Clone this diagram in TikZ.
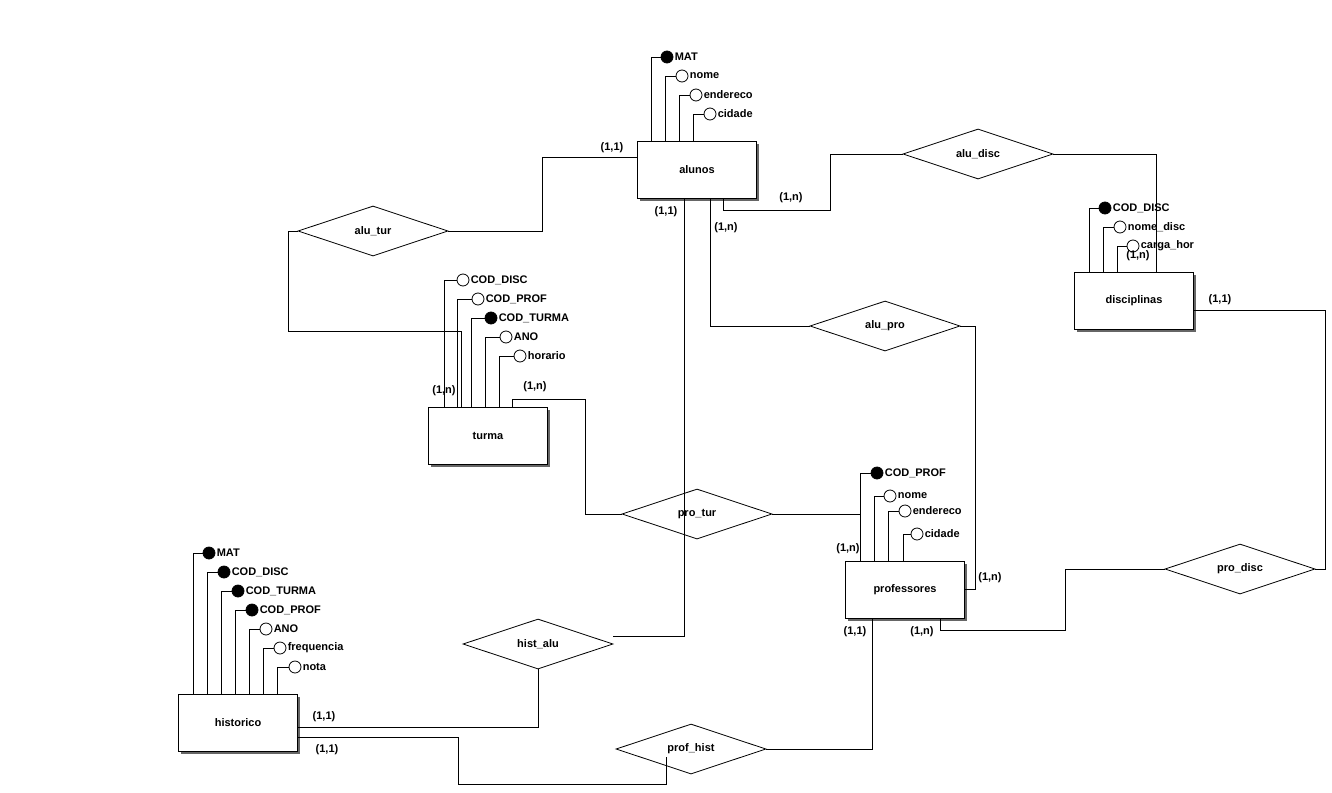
\documentclass[tikz,border=0pt]{standalone}
\usepackage{fontspec}
\setmainfont{Liberation Sans}
\usetikzlibrary{shapes.geometric,shadows,calc}
\begin{document}
\begin{tikzpicture}[x=1pt,y=-1pt,font=\fontsize{11}{13}\selectfont\bfseries,
  ent/.style={draw,fill=white,minimum width=119pt,minimum height=57pt,inner sep=0pt,drop shadow={shadow xshift=2pt,shadow yshift=-2pt,fill=black!60,opacity=1}},
  rel/.style={draw,fill=white,diamond,aspect=3,minimum width=150pt,minimum height=50pt,inner sep=0pt},
  key/.style={circle,draw,fill=black,minimum size=12pt,inner sep=0pt},
  att/.style={circle,draw,fill=white,minimum size=12pt,inner sep=0pt},
  lab/.style={inner sep=1pt},
  line width=0.8pt]
\useasboundingbox (0,0) rectangle (1332,792);
% entities
\node[ent] (alunos) at (697,170) {alunos};
\node[ent] (disc) at (1134,301) {disciplinas};
\node[ent] (turma) at (488,436) {turma};
\node[ent] (prof) at (905,590) {professores};
\node[ent] (hist) at (238,723) {historico};
% relationships
\node[rel] (aludisc) at (978,154) {alu\_disc};
\node[rel] (alutur) at (373,231) {alu\_tur};
\node[rel] (alupro) at (885,326) {alu\_pro};
\node[rel] (protur) at (697,514) {pro\_tur};
\node[rel] (prodisc) at (1240,569) {pro\_disc};
\node[rel] (histalu) at (538,644) {hist\_alu};
\node[rel] (profhist) at (691,749) {prof\_hist};
% attribute macro: entity, x of line, circle x, y, style, text
\newcommand{\myattr}[6]{%
  \node[#5] (#1-#4) at (#3,#4) {};
  \draw (#2,0 |- #1.north) -- (#2,#4) -- (#1-#4.west);
  \node[lab,anchor=west] at (#1-#4.east) {#6};}
\myattr{alunos}{651}{667}{57}{key}{MAT}
\myattr{alunos}{665}{682}{76}{att}{nome}
\myattr{alunos}{679}{696}{95}{att}{endereco}
\myattr{alunos}{693}{710}{114}{att}{cidade}
\myattr{disc}{1089}{1105}{208}{key}{COD\_DISC}
\myattr{disc}{1103}{1120}{227}{att}{nome\_disc}
\myattr{disc}{1117}{1133}{246}{att}{carga\_hor}
\myattr{turma}{444}{463}{280}{att}{COD\_DISC}
\myattr{turma}{457}{478}{299}{att}{COD\_PROF}
\myattr{turma}{471}{491}{318}{key}{COD\_TURMA}
\myattr{turma}{485}{506}{337}{att}{ANO}
\myattr{turma}{499}{520}{356}{att}{horario}
\myattr{prof}{860}{877}{473}{key}{COD\_PROF}
\myattr{prof}{874}{890}{496}{att}{nome}
\myattr{prof}{888}{905}{511}{att}{endereco}
\myattr{prof}{903}{917}{534}{att}{cidade}
\myattr{hist}{193}{209}{553}{key}{MAT}
\myattr{hist}{207}{224}{572}{key}{COD\_DISC}
\myattr{hist}{221}{238}{591}{key}{COD\_TURMA}
\myattr{hist}{235}{252}{610}{key}{COD\_PROF}
\myattr{hist}{249}{266}{629}{att}{ANO}
\myattr{hist}{263}{280}{648}{att}{frequencia}
\myattr{hist}{277}{295}{667}{att}{nota}
% connectors
\draw (alunos.west |- 0,157) -- (542,157) -- (542,231) -- (alutur.east);
\draw (alutur.west) -- (288,231) -- (288,331) -- (461,331) -- (461,0 |- turma.north);
\draw (723,0 |- alunos.south) -- (723,210) -- (830,210) -- (830,154) -- (aludisc.west);
\draw (aludisc.east) -- (1156,154) -- (1156,0 |- disc.north);
\draw (684,0 |- alunos.south) -- (684,636) -- (histalu.east |- 0,636);
\draw (710,0 |- alunos.south) -- (710,326) -- (alupro.west);
\draw (alupro.east) -- (975,326) -- (975,589) -- (prof.east |- 0,589);
\draw (512,0 |- turma.north) -- (512,399) -- (585,399) -- (585,514) -- (protur.west);
\draw (protur.east) -- (860,514);
\draw (940,0 |- prof.south) -- (940,630) -- (1065,630) -- (1065,569) -- (prodisc.west);
\draw (prodisc.east) -- (1325,569) -- (1325,310) -- (disc.east |- 0,310);
\draw (872,0 |- prof.south) -- (872,749) -- (profhist.east);
\draw (hist.east |- 0,737) -- (458,737) -- (458,784) -- (666,784) -- (666,757);
\draw (histalu.south) -- (538,727) -- (hist.east |- 0,727);
% cardinalities
\node[lab] at (612,148) {(1,1)};
\node[lab] at (444,391) {(1,n)};
\node[lab] at (791,198) {(1,n)};
\node[lab] at (1138,256) {(1,n)};
\node[lab] at (666,212) {(1,1)};
\node[lab] at (726,228) {(1,n)};
\node[lab] at (990,578) {(1,n)};
\node[lab] at (535,387) {(1,n)};
\node[lab] at (848,549) {(1,n)};
\node[lab] at (922,632) {(1,n)};
\node[lab] at (1220,300) {(1,1)};
\node[lab] at (855,632) {(1,1)};
\node[lab] at (327,750) {(1,1)};
\node[lab] at (324,717) {(1,1)};
\end{tikzpicture}
\end{document}
